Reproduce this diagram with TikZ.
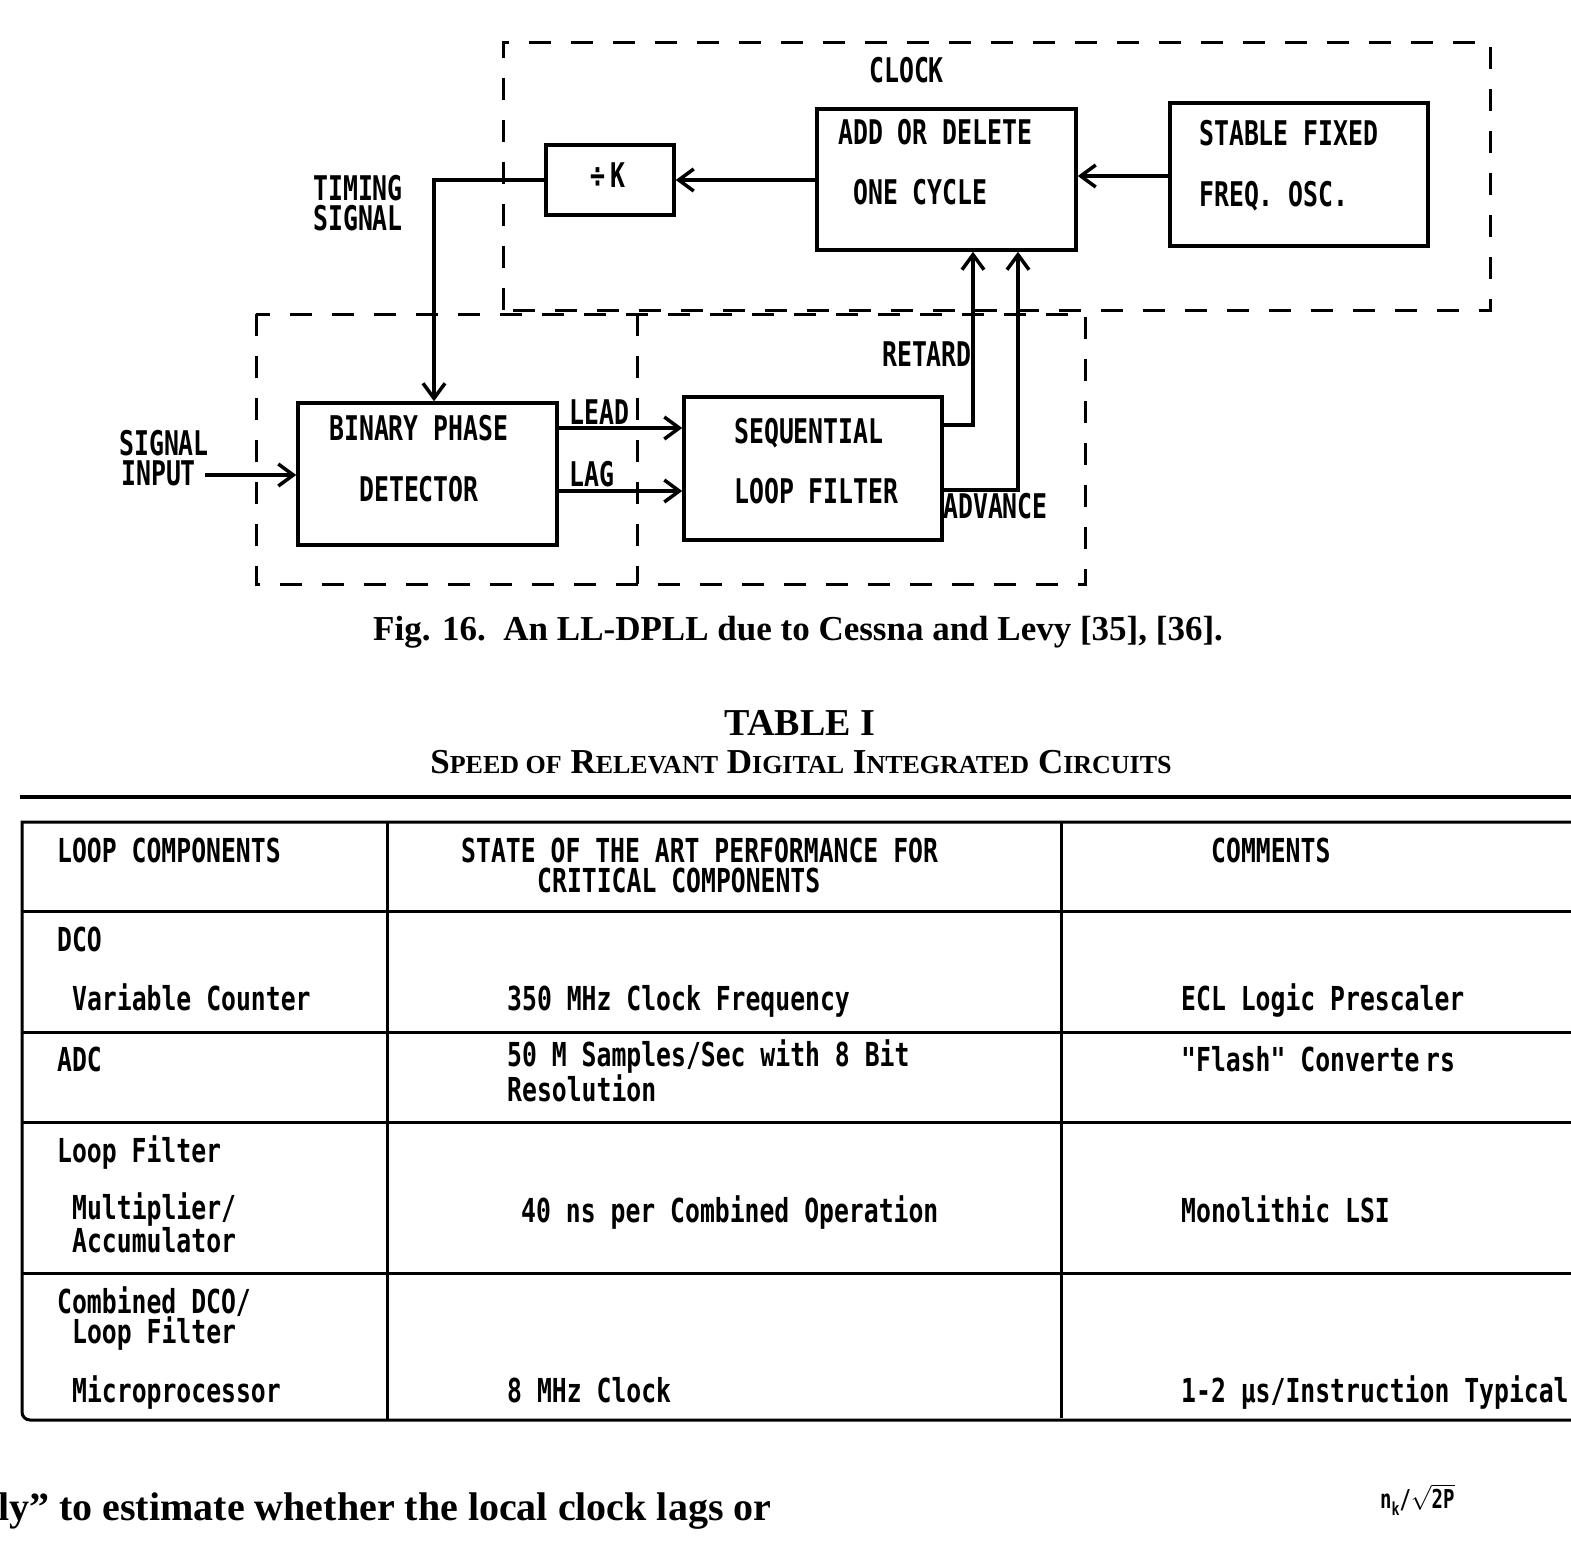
\documentclass[tikz,border=0pt]{standalone}
\usepackage{fontspec}
\usetikzlibrary{arrows.meta}
\newfontfamily\tw[FakeStretch=0.73]{DejaVu Sans Mono}
\newfontfamily\twt[FakeStretch=0.75]{DejaVu Sans Mono}
\newfontfamily\serifb[Ligatures=TeX]{Liberation Serif}
\newcommand\smcp[1]{{\fontsize{26pt}{26pt}\selectfont #1}}
\tikzset{
  blk/.style={draw, line width=3.5pt, inner sep=0pt},
  arr/.style={line width=3.5pt, -{Straight Barb[length=15pt,width=22pt,line width=3.5pt]}},
  dsh/.style={line width=3pt, dash pattern=on 22pt off 20pt},
  lbl/.style={anchor=base west, inner sep=0pt, align=left, font={\tw\bfseries\fontsize{34pt}{30pt}\selectfont}},
  tl/.style={anchor=base west, inner sep=0pt, align=left, font={\twt\bfseries\fontsize{33pt}{30pt}\selectfont}},
  tbl/.style={line width=3pt},
}
\begin{document}
\begin{tikzpicture}[x=1pt,y=-1pt]
\useasboundingbox[fill=white] (0,0) rectangle (1571,1540);

% ---- dashed boxes
\draw[dsh] (503,310) -- (503,42) -- (1490,42) -- (1490,310) -- cycle;
\draw[dsh] (256,314) rectangle (1085,584);
\draw[dsh] (637,314) -- (637,584);

% ---- blocks
\node[blk, minimum width=128pt, minimum height=70pt] (divk) at (610,180) {};
\node[blk, minimum width=259pt, minimum height=141pt] (add) at (946.5,179.5) {};
\node[blk, minimum width=258pt, minimum height=143pt] (osc) at (1299,174.5) {};
\node[blk, minimum width=259pt, minimum height=142pt] (bpd) at (427.5,474) {};
\node[blk, minimum width=258pt, minimum height=143pt] (lf) at (813,468.5) {};

% ---- block texts
\node[lbl] (tclk) at (869,82) {CLOCK};
\node[lbl] (tadd1) at (838,144) {ADD OR DELETE};
\node[lbl] (tadd2) at (853,204) {ONE CYCLE};
\node[lbl] (tosc1) at (1199,145) {STABLE FIXED};
\node[lbl] (tosc2) at (1199,206) {FREQ. OSC.};
\node[lbl, anchor=base] (tdk) at (608,187) {÷\,K};
\node[lbl] (ttim) at (313,230) {TIMING\\SIGNAL};
\node[lbl] (tsig) at (119,485) {SIGNAL\\\hspace*{2pt}INPUT};
\node[lbl] (tbpd1) at (329,440) {BINARY PHASE};
\node[lbl] (tbpd2) at (359,501) {DETECTOR};
\node[lbl] (tlead) at (569,424) {LEAD};
\node[lbl] (tlag) at (569,486) {LAG};
\node[lbl] (tlf1) at (734,443) {SEQUENTIAL};
\node[lbl] (tlf2) at (734,503) {LOOP FILTER};
\node[lbl, anchor=base east] (tret) at (972,366) {RETARD};
\node[lbl] (tadv) at (943,518) {ADVANCE};

% ---- connectors
\draw[arr] (osc.west |- 0,176) -- (add.east |- 0,176);
\draw[arr] (add.west |- 0,180) -- (divk.east |- 0,180);
\coordinate (tj) at (434,180);
\draw[arr] (divk.west |- 0,180) -- (tj) -- (tj |- bpd.north);
\coordinate (sig) at (205,475);
\draw[arr] (sig) -- (sig -| bpd.west);
\draw[arr] (bpd.east |- 0,428) -- (lf.west |- 0,428);
\draw[arr] (bpd.east |- 0,491) -- (lf.west |- 0,491);
\draw[arr] (lf.east |- 0,425) -| (add.south -| 973,0);
\draw[arr] (lf.east |- 0,490) -| (add.south -| 1018,0);

% ---- caption and title
\node[anchor=base west, inner sep=0pt, font={\serifb\bfseries\fontsize{35pt}{35pt}\selectfont}] (cap) at (373,640)
  {Fig. 16.\ \ An LL-DPLL due to Cessna and Levy [35], [36].};
\node[anchor=base, inner sep=0pt, font={\serifb\bfseries\fontsize{38pt}{38pt}\selectfont}] (ttl) at (800,735) {TABLE I};
\node[anchor=base, inner sep=0pt, font={\serifb\bfseries\fontsize{35pt}{35pt}\selectfont}] (sub) at (801,773)
  {S\smcp{PEED OF} R\smcp{ELEVANT} D\smcp{IGITAL} I\smcp{NTEGRATED} C\smcp{IRCUITS}};

% ---- table
\draw[line width=3.5pt] (20,797) -- (1571,797);
\draw[tbl] (1571,822) -- (22,822) {[rounded corners=8pt] -- (22,1420) -- (1571,1420)};
\draw[tbl] (387,822) -- (387,1420);
\draw[tbl] (1061,822) -- (1061,1418);
\draw[tbl] (22,911) -- (1571,911);
\draw[tbl] (22,1032) -- (1571,1032);
\draw[tbl] (22,1122) -- (1571,1122);
\draw[tbl] (22,1273) -- (1571,1273);

\node[tl] (h1) at (57,862) {LOOP COMPONENTS};
\node[tl] (h2) at (461,892) {STATE OF THE ART PERFORMANCE FOR\\\hspace*{76pt}CRITICAL COMPONENTS};
\node[tl] (h3) at (1211,862) {COMMENTS};

\node[tl] (r1a) at (57,951) {DCO};
\node[tl] (r1b) at (72,1010) {Variable Counter};
\node[tl] (r1c) at (507,1010) {350 MHz Clock Frequency};
\node[tl] (r1d) at (1181,1010) {ECL Logic Prescaler};

\node[tl] (r2a) at (57,1071) {ADC};
\node[tl] (r2b) at (507,1101) {50 M Samples/Sec with 8 Bit\\Resolution};
\node[tl] (r2d) at (1181,1071) {"Flash" Converte\,rs};

\node[tl] (r3a) at (57,1162) {Loop Filter};
\node[tl] (r3b) at (72,1252) {Multiplier/\\Accumulator};
\node[tl] (r3d) at (521,1222) {40 ns per Combined Operation};
\node[tl] (r3e) at (1181,1222) {Monolithic LSI};

\node[tl] (r4a) at (57,1343) {Combined DCO/\\\hspace*{15pt}Loop Filter};
\node[tl] (r4c) at (72,1402) {Microprocessor};
\node[tl] (r4d) at (507,1402) {8 MHz Clock};
\node[tl] (r4e) at (1181,1402) {1-2 μs/Instruction Typical};

% ---- bottom text
\node[anchor=base west, inner sep=0pt, font={\serifb\bfseries\fontsize{40pt}{40pt}\selectfont}] (body) at (-2,1520)
  {ly” to estimate whether the local clock lags or};
\node[anchor=base west, inner sep=0pt, font={\tw\bfseries\fontsize{26pt}{26pt}\selectfont}] (frm) at (1380,1508)
  {n\raisebox{-7pt}{\fontsize{18pt}{18pt}\selectfont k}/$\sqrt{\mbox{\tw\bfseries\fontsize{26pt}{26pt}\selectfont 2P}}$};
\end{tikzpicture}
\end{document}
